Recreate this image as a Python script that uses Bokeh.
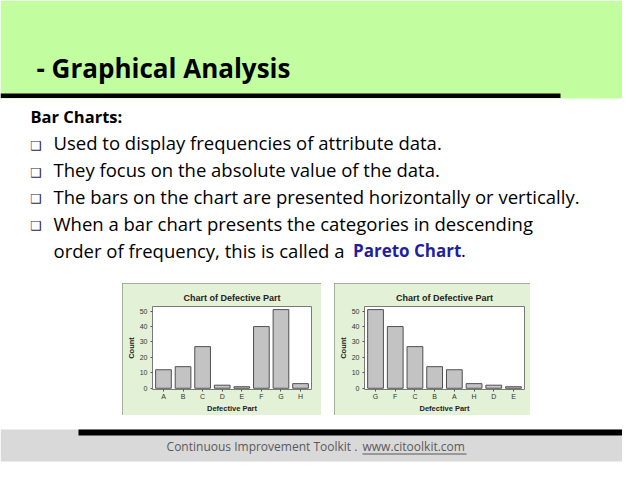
from bokeh.plotting import figure
from bokeh.layouts import column, row
from bokeh.models import Range1d, FactorRange, SingleIntervalTicker, Spacer
from bokeh.core.properties import value
from bokeh.embed import file_html
from bokeh.resources import INLINE

# ---- data ----
categories = ["A", "B", "C", "D", "E", "F", "G", "H"]
counts = [12, 14, 27, 2, 1, 40, 51, 3]
pareto_categories = ["G", "F", "C", "B", "A", "H", "D", "E"]
pareto_counts = [51, 40, 27, 14, 12, 3, 2, 1]

slide_title = "- Graphical Analysis"
heading = "Bar Charts:"
bullet_lines = [
    "Used to display frequencies of attribute data.",
    "They focus on the absolute value of the data.",
    "The bars on the chart are presented horizontally or vertically.",
    "When a bar chart presents the categories in descending",
]
last_line_plain = "order of frequency, this is called a"
last_line_bold = "Pareto Chart"
footer_text = "Continuous Improvement Toolkit . "
footer_link = "www.citoolkit.com"
chart_title = "Chart of Defective Part"
x_label = "Defective Part"
y_label = "Count"

BODY_FONT = "Open Sans"
GREEN = "#c2fe9f"
W = 622
BODY = 18.5


def by(baseline, size):
    # y to give so that the text's baseline falls at `baseline`
    return baseline - 0.38 * size


# ---- top part of the slide (header + text) ----
top = figure(width=W, height=283, x_range=Range1d(0, W), y_range=Range1d(283, 0),
             output_backend="svg", toolbar_location=None, min_border=0,
             x_axis_location=None, y_axis_location=None)
top.grid.visible = False
top.outline_line_color = None
top.quad(left=0, right=W, top=0, bottom=98, fill_color=GREEN, line_color=None)
top.quad(left=0, right=560, top=93, bottom=97.5, fill_color="#000000", line_color=None)
top.text(x=[36], y=[by(77, 26)], text=[slide_title], text_font=value(BODY_FONT),
         text_font_style="bold", text_font_size="26px", text_color="#000000",
         text_baseline="alphabetic")
top.text(x=[30], y=[by(122, 16.5)], text=[heading], text_font=value(BODY_FONT),
         text_font_style="bold", text_font_size="16.5px", text_color="#000000",
         text_baseline="alphabetic")
baselines = [149.5, 176.3, 203.1, 229.9, 256.7]
top.text(x=[29.5] * 4, y=[by(b, 12.5) for b in baselines[:4]], text=["\u2751"] * 4,
         text_font=value("DejaVu Sans"), text_font_size="12.5px", text_color="#1c1c50",
         text_baseline="alphabetic")
top.text(x=[53] * 4, y=[by(b, BODY) for b in baselines[:4]], text=bullet_lines,
         text_font=value(BODY_FONT), text_font_size=f"{BODY}px", text_color="#000000",
         text_baseline="alphabetic")
top.text(x=[53], y=[by(baselines[4], BODY)], text=[last_line_plain], text_font=value(BODY_FONT),
         text_font_size=f"{BODY}px", text_color="#000000", text_baseline="alphabetic")
top.text(x=[352.5], y=[by(baselines[4], 17)], text=[last_line_bold], text_font=value(BODY_FONT),
         text_font_style="bold", text_font_size="17px", text_color="#1f1fa0",
         text_baseline="alphabetic")
top.text(x=[460.5], y=[by(baselines[4], BODY)], text=["."], text_font=value(BODY_FONT),
         text_font_size=f"{BODY}px", text_color="#000000", text_baseline="alphabetic")


# ---- charts ----
def make_chart(cats, vals, width, right_border):
    p = figure(width=width, height=132,
               x_range=FactorRange(factors=cats, range_padding=0.015),
               y_range=Range1d(-0.8, 53), title=chart_title,
               output_backend="svg", toolbar_location=None,
               min_border_left=30, min_border_right=right_border,
               min_border_top=23, min_border_bottom=22,
               styles={"outline": "1px solid #8c9a86", "outline-offset": "-1px"})
    p.background_fill_color = "#ffffff"
    p.border_fill_color = "#e3f1d6"
    p.outline_line_color = "#7a7a7a"
    p.outline_line_width = 1
    p.grid.visible = False
    p.vbar(x=cats, top=vals, bottom=0, width=0.8, fill_color="#c3c3c3",
           line_color="#505050", line_width=1)
    p.title.text_font = "Liberation Sans"
    p.title.text_font_style = "bold"
    p.title.text_font_size = "9px"
    p.title.text_color = "#222222"
    p.title.align = "center"
    p.title.standoff = 7
    p.yaxis.ticker = SingleIntervalTicker(interval=10)
    for ax in (p.xaxis[0], p.yaxis[0]):
        ax.axis_line_color = None
        ax.major_tick_line_color = "#555555"
        ax.major_tick_out = 2
        ax.major_tick_in = 0
        ax.minor_tick_line_color = None
        ax.major_label_text_font = "Liberation Sans"
        ax.major_label_text_font_size = "7px"
        ax.major_label_text_color = "#333333"
        ax.major_label_standoff = 1
        ax.axis_label_text_font = "Liberation Sans"
        ax.axis_label_text_font_style = "bold"
        ax.axis_label_text_font_size = "7.5px"
        ax.axis_label_text_color = "#222222"
        ax.axis_label_standoff = 1
    p.xaxis.axis_label = x_label
    p.yaxis.axis_label = y_label
    return p


chart1 = make_chart(categories, counts, 199, 10)
chart2 = make_chart(pareto_categories, pareto_counts, 196, 6)

mid = row(Spacer(width=122, height=132), chart1, Spacer(width=13, height=132), chart2,
          Spacer(width=92, height=132), spacing=0)

# ---- footer (white gap above it is shortened so that it fits) ----
bottom = figure(width=W, height=48, x_range=Range1d(0, W), y_range=Range1d(479, 431),
                output_backend="svg", toolbar_location=None, min_border=0,
                x_axis_location=None, y_axis_location=None)
bottom.grid.visible = False
bottom.outline_line_color = None
bottom.quad(left=0, right=W, top=445, bottom=477, fill_color="#d9d9d9", line_color=None)
bottom.quad(left=78, right=W, top=445, bottom=451, fill_color="#000000", line_color=None)
bottom.text(x=[360], y=[by(467, 12)], text=[footer_text], text_font=value(BODY_FONT),
            text_font_size="12px", text_color="#595959", text_align="right",
            text_baseline="alphabetic")
bottom.text(x=[362], y=[by(467, 12)], text=[footer_link], text_font=value(BODY_FONT),
            text_font_size="12px", text_color="#595959", text_align="left",
            text_baseline="alphabetic")
bottom.segment(x0=[362], x1=[466], y0=[469.5], y1=[469.5], line_color="#595959", line_width=1)

layout = column(top, mid, bottom, spacing=0)

open("out.html", "w").write(file_html(layout, INLINE))
